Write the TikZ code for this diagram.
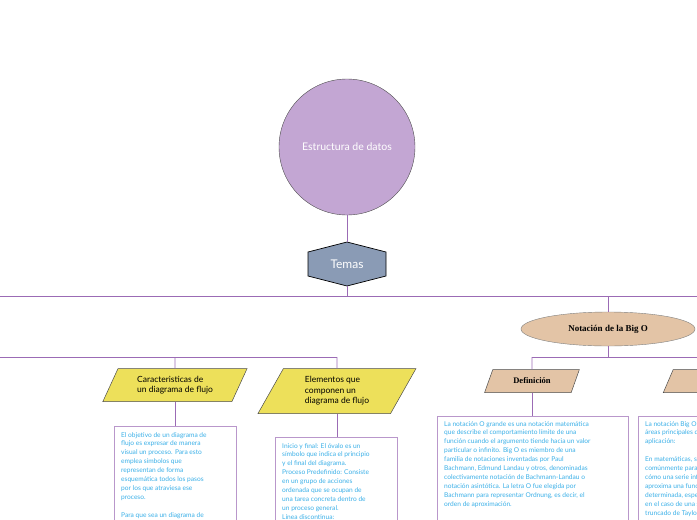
\documentclass[tikz,border=0pt]{standalone}
\usepackage{fontspec}
\setmainfont{Lato}
\newfontfamily\serifb{Liberation Serif}
\usetikzlibrary{shapes.geometric}
\definecolor{lnk}{HTML}{9B6BB5}
\definecolor{txtb}{HTML}{3BB0E8}
\definecolor{yel}{HTML}{EDE05A}
\definecolor{tan}{HTML}{E3C4A6}
\tikzset{
 lk/.style={draw=lnk,line width=0.8pt},
 para/.style={trapezium,trapezium left angle=63,trapezium right angle=117,trapezium stretches=true,draw=black!70,line width=0.5pt,align=left,inner sep=1pt},
 frame/.style={draw=lnk!70,line width=0.6pt,fill=white,anchor=north west,inner sep=0pt,minimum height=160pt},
 ttext/.style={anchor=north west,align=left,text=txtb,font=\fontsize{6.6}{8.9}\selectfont,inner sep=0pt},
}
\begin{document}
\begin{tikzpicture}[x=1pt,y=-1pt]
\useasboundingbox (0,0) rectangle (697,520);
\clip (0,0) rectangle (697,520);
\node[circle,draw=black!70,fill=lnk!60!white,minimum size=136pt,text=white,font=\fontsize{10.5}{12}\selectfont] (root) at (347,147) {Estructura de datos};
\draw[draw=black,line width=0.7pt,fill={rgb,255:red,138;green,155;blue,181}] (347,242)--(386,252)--(386,276)--(347,286)--(308,276)--(308,252)--cycle;
\node[text=white,font=\fontsize{12}{14}\selectfont] (temas) at (347,264) {Temas};
\draw[lk] (root.south) -- (347,242);
\coordinate (hub) at (347,296);
\draw[lk] (347,286) -- (hub);
\draw[lk] (0,296) -- (697,296);
% right branch
\node[ellipse,draw=black!50,fill=tan,minimum width=174pt,minimum height=34pt,font=\serifb\bfseries\fontsize{9}{10}\selectfont] (big) at (608,329) {Notación de la Big O};
\draw[lk] (608,296) -- (big.north);
\coordinate (rh) at (608,357);
\draw[lk] (big.south) -- (rh);
\draw[lk] (532,357) -- (697,357);
\node[para,fill=tan,minimum width=95pt,minimum height=23pt,font=\serifb\bfseries\fontsize{8.5}{10}\selectfont] (def) at (532,381) {Definición};
\node[para,fill=tan,minimum width=95pt,minimum height=23pt,font=\serifb\bfseries\fontsize{8.5}{10}\selectfont,anchor=west] (uso) at (668,381) {\hspace*{14pt}Uso};
\draw[lk] (532,357) -- (def.north);
\draw[lk] (697,357) -- (697,369);
\node[frame,minimum width=191pt] (b3) at (437,416) {};
\node[ttext] (t3) at (444,421) {La notación O grande es una notación matemática\\que describe el comportamiento límite de una\\función cuando el argumento tiende hacia un valor\\particular o infinito. Big O es miembro de una\\familia de notaciones inventadas por Paul\\Bachmann, Edmund Landau y otros, denominadas\\colectivamente notación de Bachmann-Landau o\\notación asintótica. La letra O fue elegida por\\Bachmann para representar Ordnung, es decir, el\\orden de aproximación.};
\draw[lk] (def.south) -- (b3.north -| def.south);
\node[frame,minimum width=191pt] (b4) at (638,416) {};
\node[ttext] (t4) at (645,421) {La notación Big O se usa en dos\\áreas principales de\\aplicación:\\[8.9pt]En matemáticas, se usa\\comúnmente para describir\\cómo una serie infinita\\aproxima una función\\determinada, especialmente\\en el caso de una serie\\truncado de Taylor};
% left branch
\draw[lk] (0,357) -- (337,357);
\node[para,fill=yel,minimum width=145pt,minimum height=33pt,font=\fontsize{8.5}{10.5}\selectfont] (car) at (175,385) {Caracteristicas de\\un diagrama de flujo};
\node[para,fill=yel,minimum width=159pt,minimum height=45pt,font=\fontsize{8.5}{10.5}\selectfont] (ele) at (337,391) {Elementos que\\componen un\\diagrama de flujo};
\draw[lk] (175,357) -- (car.north);
\draw[lk] (337,357) -- (ele.north);
\node[frame,minimum width=122pt] (b1) at (114,426) {};
\node[ttext] (t1) at (121,432) {El objetivo de un diagrama de\\flujo es expresar de manera\\visual un proceso. Para esto\\emplea símbolos que\\representan de forma\\esquemática todos los pasos\\por los que atraviesa ese\\proceso.\\[8.9pt]Para que sea un diagrama de};
\node[frame,minimum width=122pt] (b2) at (275,437) {};
\node[ttext] (t2) at (282,443) {Inicio y final: El óvalo es un\\símbolo que indica el principio\\y el final del diagrama.\\Proceso Predefinido: Consiste\\en un grupo de acciones\\ordenada que se ocupan de\\una tarea concreta dentro de\\un proceso general.\\Línea discontinua:};
\draw[lk] (car.south) -- (b1.north -| car.south);
\draw[lk] (ele.south) -- (b2.north -| ele.south);
\end{tikzpicture}
\end{document}
